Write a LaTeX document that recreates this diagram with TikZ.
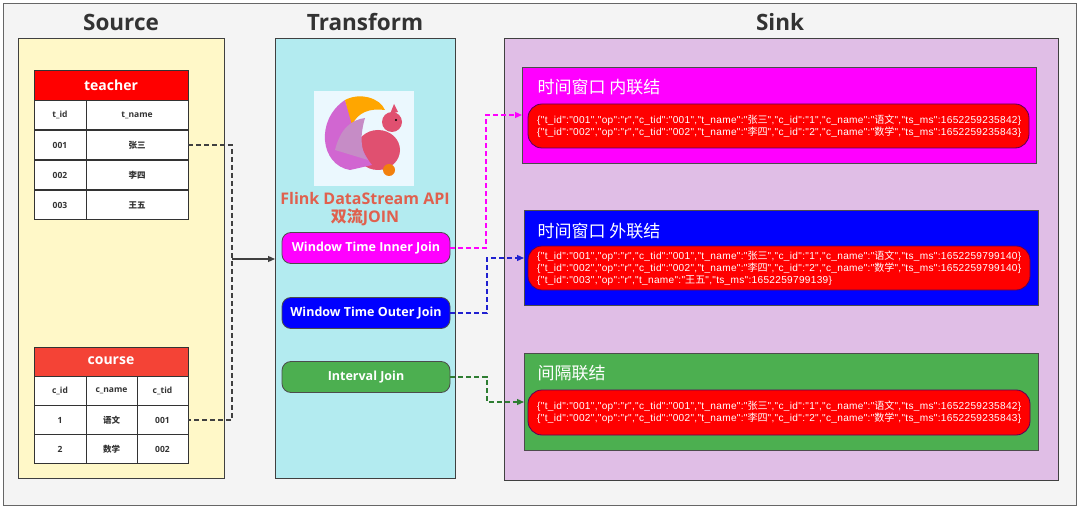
\documentclass[tikz,border=0pt]{standalone}
\usepackage{fontspec}
\setmainfont{Open Sans}
\newfontfamily\cjk{Noto Sans CJK SC}
\newfontfamily\jf[LetterSpace=3]{Liberation Sans}
\usetikzlibrary{arrows.meta}
\definecolor{bgc}{HTML}{F4F4F4}
\definecolor{srcc}{HTML}{FFF8C8}
\definecolor{trc}{HTML}{B3EBF0}
\definecolor{skc}{HTML}{E0BEE6}
\definecolor{grn}{HTML}{4CAF50}
\definecolor{crs}{HTML}{F44336}
\definecolor{flk}{HTML}{E0604E}
\definecolor{sq}{HTML}{E05070}
\definecolor{dgrn}{HTML}{2E7D32}
\definecolor{mag}{HTML}{FF00FF}
\definecolor{blu}{HTML}{0000FF}
\definecolor{dblu}{HTML}{2020D0}
\definecolor{rd}{HTML}{FF0000}
\tikzset{
 panel/.style={draw=black!75,line width=0.8pt},
 ttl/.style={font=\fontsize{22.5}{24}\selectfont\bfseries,text=black!80},
 cell/.style={draw=black!80,fill=white,line width=0.8pt},
 ctext/.style={font=\fontsize{8.5}{9}\selectfont\bfseries,text=black!80},
 btn/.style={draw=black!70,line width=0.8pt,rounded corners=9pt,minimum width=168pt,minimum height=31pt,text=white,font=\fontsize{12.5}{13}\selectfont\bfseries},
 box/.style={draw=black!70,line width=0.8pt},
 rbox/.style={draw=violet!70!black,fill=rd,line width=0.8pt,rounded corners=14pt},
 btitle/.style={text=white,font=\cjk\fontsize{17}{18}\selectfont,anchor=west},
 json/.style={text=white,font=\jf\fontsize{10.1}{12}\selectfont,anchor=west,align=left,inner sep=0pt},
 conn/.style={line width=1.2pt,dash pattern=on 5pt off 3pt},
 tip/.style={-{Triangle[length=7pt,width=6pt]}}
}
\newcommand{\zh}[1]{{\cjk #1}}
\begin{document}
\begin{tikzpicture}[x=1pt,y=-1pt]
\useasboundingbox (0,0) rectangle (1080,508);
\fill[white] (0,0) rectangle (1080,508);
\draw[fill=bgc,draw=black!60] (3,3) rectangle (1076,505);
% titles
\node[ttl] (tsrc) at (121,22) {Source};
\node[ttl] (ttr) at (365,22) {Transform};
\node[ttl] (tsk) at (780,22) {Sink};
% panels
\draw[panel,fill=srcc] (18,38) rectangle (224,478);
\draw[panel,fill=trc] (275,38) rectangle (455,478);
\draw[panel,fill=skc] (504,38) rectangle (1058,480);
% teacher table
\draw[cell,fill=rd] (34,70) rectangle (188,100);
\node[text=white,font=\fontsize{14}{15}\selectfont\bfseries] (teach) at (111,85) {teacher};
\foreach \y/\a/\b in {100/t\_id/t\_name,130/001/\zh{张三},160/002/\zh{李四},190/003/\zh{王五}}{
 \draw[cell] (34,\y) rectangle (86,\y+29.5);
 \draw[cell] (86,\y) rectangle (188,\y+29.5);
 \node[ctext] at (60,\y+15) {\a};
 \node[ctext] at (137,\y+15) {\b};
}
\coordinate (t1) at (188,145);
% course table
\draw[cell,fill=crs] (34,347) rectangle (188,376);
\node[text=white,font=\fontsize{14}{15}\selectfont\bfseries] (course) at (111,361) {course};
\foreach \y/\a/\b/\c in {376/c\_id/c\_name/c\_tid,405/1/\zh{语文}/001,434/2/\zh{数学}/002}{
 \draw[cell] (34,\y) rectangle (86,\y+29);
 \draw[cell] (86,\y) rectangle (137,\y+29);
 \draw[cell] (137,\y) rectangle (188,\y+29);
 \node[ctext] at (60,\y+15) {\a};
 \node[ctext] at (111.5,\y+15) {\b};
 \node[ctext] at (162.5,\y+15) {\c};
}
\coordinate (c1) at (188,420);
\coordinate (jx) at (232,259);
\coordinate (tin) at (275,259);
\draw[conn,black!75] (t1) -| (jx) |- (c1);
\draw[black!75,line width=1.2pt,tip] (jx) -- (tin);
% logo
\fill[cyan!8] (314,91) rectangle (414,186);
\begin{scope}
\fill[sq] (378,150) ellipse (22pt and 20pt);
\fill[sq] (392,122) circle (10pt);
\fill[sq] (398,112) -- (394,104) -- (390,114) -- cycle;
\fill[violet!60!magenta!60] (350,170) .. controls (320,165) and (315,120) .. (345,100) .. controls (355,130) and (360,150) .. (372,165) -- cycle;
\fill[orange!70!yellow] (345,100) .. controls (360,92) and (380,98) .. (385,110) .. controls (370,108) and (358,112) .. (352,125) -- cycle;
\fill[violet!45] (335,150) .. controls (340,130) and (350,120) .. (365,118) .. controls (360,135) and (360,150) .. (368,160) -- cycle;
\fill[orange!80!brown] (389,170) circle (6pt);
\fill[black] (396,120) circle (1.2pt);
\end{scope}
\node[text=flk,font=\fontsize{16}{18}\selectfont\bfseries,align=center] (flink) at (365,209) {Flink DataStream API\\{\cjk\bfseries 双流}JOIN};
% buttons
\node[btn,fill=mag] (inner) at (366,248) {Window Time Inner Join};
\node[btn,fill=blu] (outer) at (366,313) {Window Time Outer Join};
\node[btn,fill=grn] (interval) at (366,377) {Interval Join};
% sink boxes
\draw[box,fill=mag] (522,67) rectangle (1036,163);
\node[btitle] (b1) at (534,87) {时间窗口 内联结};
\draw[rbox] (528,104) rectangle (1029,148);
\node[json] (j1) at (537,126) {\{"t\_id":"001","op":"r","c\_tid":"001","t\_name":"\zh{张三}","c\_id":"1","c\_name":"\zh{语文}","ts\_ms":1652259235842\}\\\{"t\_id":"002","op":"r","c\_tid":"002","t\_name":"\zh{李四}","c\_id":"2","c\_name":"\zh{数学}","ts\_ms":1652259235843\}};
\draw[box,fill=blu] (524,210) rectangle (1038,305);
\node[btitle] (b2) at (534,231) {时间窗口 外联结};
\draw[rbox] (528,246) rectangle (1030,290);
\node[json,font=\jf\fontsize{10.1}{11.8}\selectfont] (j2) at (537,268) {\{"t\_id":"001","op":"r","c\_tid":"001","t\_name":"\zh{张三}","c\_id":"1","c\_name":"\zh{语文}","ts\_ms":1652259799140\}\\\{"t\_id":"002","op":"r","c\_tid":"002","t\_name":"\zh{李四}","c\_id":"2","c\_name":"\zh{数学}","ts\_ms":1652259799140\}\\\{"t\_id":"003","op":"r","t\_name":"\zh{王五}","ts\_ms":1652259799139\}};
\draw[box,fill=grn] (524,353) rectangle (1038,450);
\node[btitle] (b3) at (534,373) {间隔联结};
\draw[rbox] (528,390) rectangle (1030,435);
\node[json] (j3) at (537,412) {\{"t\_id":"001","op":"r","c\_tid":"001","t\_name":"\zh{张三}","c\_id":"1","c\_name":"\zh{语文}","ts\_ms":1652259235842\}\\\{"t\_id":"002","op":"r","c\_tid":"002","t\_name":"\zh{李四}","c\_id":"2","c\_name":"\zh{数学}","ts\_ms":1652259235843\}};
\coordinate (s1) at (522,115);
\coordinate (s2) at (524,258);
\coordinate (s3) at (524,402);
\draw[conn,draw=mag,tip] (inner.east) -| (486,115) -- (s1);
\draw[conn,draw=dblu,tip] (outer.east) -| (487,258) -- (s2);
\draw[conn,draw=dgrn,tip] (interval.east) -| (487,402) -- (s3);
\end{tikzpicture}
\end{document}
